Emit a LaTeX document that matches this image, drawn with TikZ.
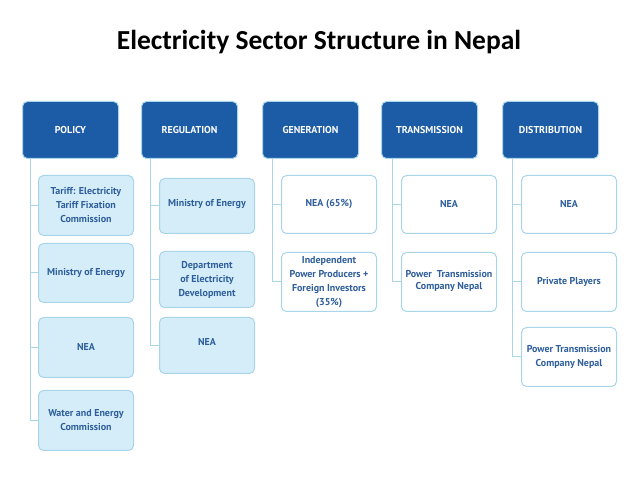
\documentclass[tikz,border=0pt]{standalone}
\usepackage{fontspec}
\setmainfont{Carlito}
\newfontfamily\boxfont{PT Sans}
\begin{document}
\definecolor{hdr}{HTML}{1C5CA6}
\definecolor{edge}{HTML}{A8D5EA}
\definecolor{lfill}{HTML}{D5EDF8}
\definecolor{txt}{HTML}{2E5E9C}
\begin{tikzpicture}[x=1pt,y=-1pt,
  hd/.style={draw=edge,line width=1pt,fill=hdr,rounded corners=5pt,minimum width=96pt,minimum height=57pt,text=white,font=\boxfont\bfseries\fontsize{10}{12}\selectfont,anchor=north west},
  ch/.style={draw=edge,line width=1pt,rounded corners=5pt,minimum width=95pt,align=center,text=txt,font=\boxfont\bfseries\fontsize{10}{14}\selectfont,anchor=north west},
  lb/.style={ch,fill=lfill},
  wb/.style={ch,fill=white},
  ln/.style={draw=edge,line width=1pt}]
\useasboundingbox (0,0) rectangle (638,478);
\node[font=\bfseries\fontsize{27.5}{30}\selectfont] (title) at (319,42) {Electricity Sector Structure in Nepal};
\node[hd] (h1) at (22,101) {POLICY};
\node[hd] (h2) at (141,101) {REGULATION};
\node[hd] (h3) at (262,101) {GENERATION};
\node[hd] (h4) at (381,101) {TRANSMISSION};
\node[hd] (h5) at (502,101) {DISTRIBUTION};
% policy
\node[lb,minimum height=60pt] (p1) at (38,175) {Tariff: Electricity\\Tariff Fixation\\Commission};
\node[lb,minimum height=59pt] (p2) at (38,243) {Ministry of Energy};
\node[lb,minimum height=60pt] (p3) at (38,317) {NEA};
\node[lb,minimum height=60pt] (p4) at (38,390) {Water and Energy\\Commission};
% regulation
\node[lb,minimum height=55pt] (r1) at (159,178) {\raisebox{6pt}{Ministry of Energy}};
\node[lb,minimum height=56pt] (r2) at (159,251) {Department\\of Electricity\\Development};
\node[lb,minimum height=56pt] (r3) at (159,317) {\raisebox{8pt}{NEA}};
% generation
\node[wb,minimum height=58pt] (g1) at (281,175) {NEA (65\%)};
\node[wb,minimum height=59pt] (g2) at (281,252) {Independent\\Power Producers +\\Foreign Investors\\(35\%)};
% transmission
\node[wb,minimum height=58pt] (t1) at (401,175) {NEA};
\node[wb,minimum height=59pt] (t2) at (401,252) {\raisebox{4pt}{\shortstack{Power~ Transmission\\[2pt]Company Nepal}}};
% distribution
\node[wb,minimum height=58pt] (d1) at (521,175) {NEA};
\node[wb,minimum height=59pt] (d2) at (521,252) {Private Players};
\node[wb,minimum height=59pt] (d3) at (521,327) {Power Transmission\\Company Nepal};
% connectors
\foreach \h/\xx/\list/\last in {h1/30/{p1,p2,p3,p4}/p4, h2/150/{r1,r2,r3}/r3, h3/272/{g1,g2}/g2, h4/392/{t1,t2}/t2, h5/512/{d1,d2,d3}/d3}{
  \draw[ln] (\xx,158) -- (\xx,0 |- \last.west);
  \foreach \c in \list { \draw[ln] (\xx,0 |- \c.west) -- (\c.west); }
}
\end{tikzpicture}
\end{document}
